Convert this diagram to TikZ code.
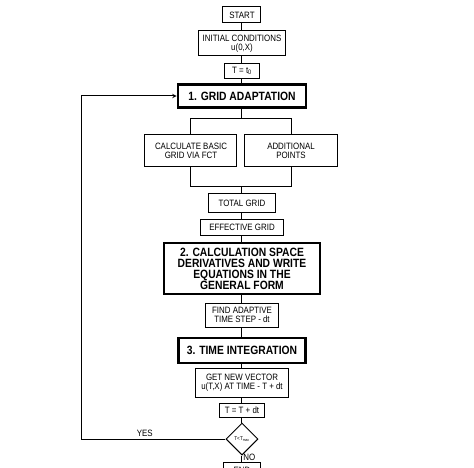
\documentclass[tikz,border=0pt]{standalone}
\usepackage{fontspec}
\setmainfont{Liberation Sans}[FakeStretch=0.86]
\usepackage{tikz}
\usetikzlibrary{shapes.geometric, arrows, positioning}
\tikzstyle{box} = [rectangle, draw=black, line width=1pt, text centered, align=center, inner sep=1pt, font=\fontsize{9.2}{9.5}\selectfont]
\tikzstyle{stage} = [rectangle, draw=black, line width=2.6pt, text centered, align=center, inner sep=1pt, font=\bfseries\fontsize{12}{11}\selectfont]
\tikzstyle{decision} = [diamond, draw=black, line width=1pt, minimum width=32pt, minimum height=32pt, inner sep=0pt, font=\fontsize{5.5}{5.5}\selectfont]
\tikzstyle{line} = [line width=1pt]
\tikzstyle{arrow} = [line width=1pt,->,>=stealth]

\begin{document}
\begin{tikzpicture}[node distance=25pt]
\useasboundingbox (-242pt,15pt) rectangle (232pt,-453pt);
\fill [white] (-242pt,15pt) rectangle (232pt,-453pt);

% Setup
\node (start) [box, minimum width=38pt, minimum height=16pt] {START};
\node (init) [box, below of=start, yshift=-3.5pt, minimum width=86pt, minimum height=25pt] {INITIAL CONDITIONS\\u(0,X)};
\node (tzero) [box, below of=init, yshift=-2.5pt, minimum width=35pt, minimum height=15pt] {T = t\textsubscript{0}};

% Grid adaptation
\node (grid) [stage, below of=tzero, minimum width=128pt, minimum height=23pt] {1. GRID ADAPTATION};
\node (calc) [box, below of=grid, xshift=-51pt, yshift=-30pt, minimum width=92pt, minimum height=32pt] {CALCULATE BASIC\\GRID VIA FCT};
\node (addp) [box, below of=grid, xshift=49pt, yshift=-30pt, minimum width=92pt, minimum height=32pt] {ADDITIONAL\\POINTS};
\node (total) [box, below of=grid, yshift=-82pt, minimum width=66pt, minimum height=18pt] {TOTAL GRID};
\node (eff) [box, below of=total, yshift=1pt, minimum width=83pt, minimum height=16pt] {EFFECTIVE GRID};

% Space derivatives
\node (calcsp) [stage, below of=eff, yshift=-16.5pt, minimum width=156pt, minimum height=51pt] {2. CALCULATION SPACE\\DERIVATIVES AND WRITE\\EQUATIONS IN THE\\GENERAL FORM};
\node (adapt) [box, below of=calcsp, yshift=-21.5pt, minimum width=72pt, minimum height=24pt] {FIND ADAPTIVE\\TIME STEP - dt};

% Time integration
\node (timeint) [stage, below of=adapt, yshift=-10.5pt, minimum width=127pt, minimum height=25pt] {3. TIME INTEGRATION};
\node (newvec) [box, below of=timeint, yshift=-7pt, minimum width=93pt, minimum height=29pt] {GET NEW VECTOR\\u(T,X) AT TIME - T + dt};
\node (tnew) [box, below of=newvec, yshift=-2.5pt, minimum width=45pt, minimum height=14pt] {T = T + dt};
\node (dec) [decision, below of=tnew, yshift=-4pt] {T<T\textsubscript{max}};
\node (end) [box, below of=dec, yshift=-6pt, minimum width=37pt, minimum height=16pt] {END};

% Lines
\draw [line] (start) -- (init);
\draw [line] (init) -- (tzero);
\draw [line] (tzero) -- (grid);

\draw [line] (grid.south) -- ++(0,-10pt) coordinate (split);
\draw [line] (calc.north) |- (split) -| (addp.north);
\draw [line] (total.north) -- ++(0,7pt) coordinate (merge);
\draw [line] (calc.south) |- (merge) -| (addp.south);

\draw [line] (total) -- (eff);
\draw [line] (eff) -- (calcsp);
\draw [line] (calcsp) -- (adapt);
\draw [line] (adapt) -- (timeint);
\draw [line] (timeint) -- (newvec);
\draw [line] (newvec) -- (tnew);
\draw [line] (tnew) -- (dec);
\draw [line] (dec) -- node[right, inner sep=1pt, yshift=1pt, font=\fontsize{9.2}{9.5}\selectfont] {NO} (end);

\draw [arrow] (dec.west) -- node[above, pos=0.56, inner sep=2pt, font=\fontsize{9.2}{9.5}\selectfont] {YES} ++(-144pt,0) |- (grid.west);

\end{tikzpicture}
\end{document}
